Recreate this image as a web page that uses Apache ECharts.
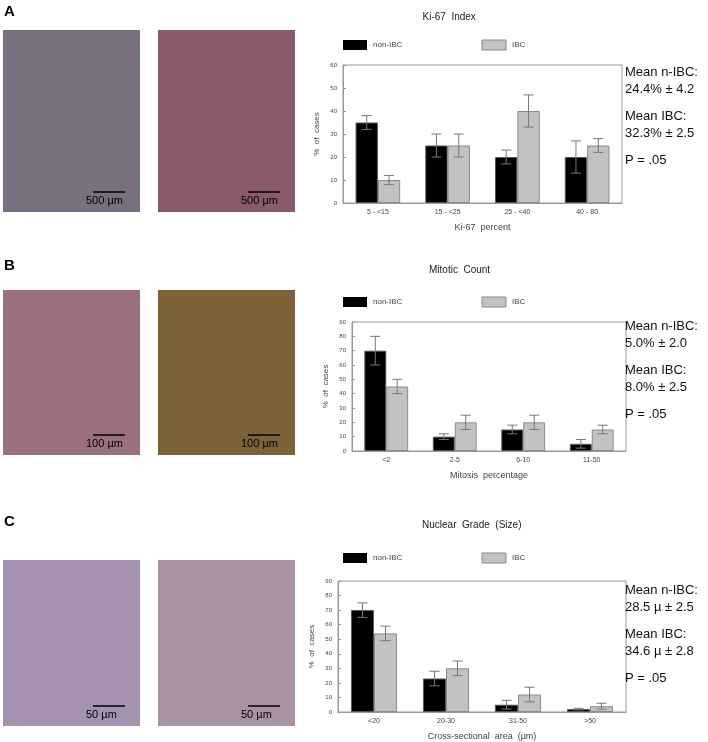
<!DOCTYPE html>
<html><head><meta charset="utf-8">
<script src="https://cdn.jsdelivr.net/npm/echarts@6/dist/echarts.min.js"></script>
<style>html,body{margin:0;padding:0;background:#fff}#c{width:708px;height:742px}</style>
</head><body><div id="c"></div>
<script>
const kiCats = ['5 - <15','15 - <25','25 - <40','40 - 80'];
const kiNon = [35,25,20,20], kiNonErr = [3,5,3,7];
const kiIbc = [10,25,40,25], kiIbcErr = [2,5,7,3];
const miCats = ['<2','2-5','6-10','11-50'];
const miNon = [70,10,15,5], miNonErr = [10,2,3,3];
const miIbc = [45,20,20,15], miIbcErr = [5,5,5,3];
const nuCats = ['<20','20-30','31-50','>50'];
const nuNon = [70,23,5,2], nuNonErr = [5,5,3,0.5];
const nuIbc = [54,30,12,4], nuIbcErr = [5,5,5,2];

const panels = [
 {cats:kiCats, non:kiNon, nonE:kiNonErr, ibc:kiIbc, ibcE:kiIbcErr, max:60, grid:{left:343,top:65,width:279,height:138},
  title:'Ki-67  Index', titleY:12, legY:40, xname:'Ki-67  percent', side:['Mean n-IBC:','24.4% ± 4.2','Mean IBC:','32.3% ± 2.5','P = .05'], sideY:66, letter:'A', letterY:4,
  img:{y:30,h:182,c1:'#77707f',c2:'#8a5a6a',bar:'500 µm'}},
 {cats:miCats, non:miNon, nonE:miNonErr, ibc:miIbc, ibcE:miIbcErr, max:90, grid:{left:352,top:322,width:274,height:129},
  title:'Mitotic  Count', titleY:265, legY:297, xname:'Mitosis  percentage', side:['Mean n-IBC:','5.0% ± 2.0','Mean IBC:','8.0% ± 2.5','P = .05'], sideY:320, letter:'B', letterY:258,
  img:{y:290,h:165,c1:'#9a7080',c2:'#7d6238',bar:'100 µm'}},
 {cats:nuCats, non:nuNon, nonE:nuNonErr, ibc:nuIbc, ibcE:nuIbcErr, max:90, grid:{left:338,top:581,width:288,height:131},
  title:'Nuclear  Grade  (Size)', titleY:520, legY:553, xname:'Cross-sectional  area  (µm)', side:['Mean n-IBC:','28.5 µ ± 2.5','Mean IBC:','34.6 µ ± 2.8','P = .05'], sideY:584, letter:'C', letterY:514,
  img:{y:560,h:166,c1:'#a592b0',c2:'#aa92a6',bar:'50 µm'}}
];

const grids=[],xAxes=[],yAxes=[],series=[],graphics=[];
function errSeries(i,vals,errs,sign,col){
  return {type:'custom',xAxisIndex:i,yAxisIndex:i,z:5,
    data:vals.map((v,k)=>[k,v,errs[k]]),
    renderItem:(params,api)=>{
      const k=api.value(0),v=api.value(1),e=api.value(2);
      const w=api.size([1,0])[0];
      const cx=api.coord([k,v])[0]+sign*0.16*w;
      const yt=api.coord([k,v+e])[1], yb=api.coord([k,v-e])[1];
      const st={stroke:col,lineWidth:1};
      return {type:'group',children:[
        {type:'line',shape:{x1:cx,y1:yt,x2:cx,y2:yb},style:st},
        {type:'line',shape:{x1:cx-5,y1:yt,x2:cx+5,y2:yt},style:st},
        {type:'line',shape:{x1:cx-5,y1:yb,x2:cx+5,y2:yb},style:st}]};
    }};
}
panels.forEach((p,i)=>{
  grids.push(Object.assign({show:true,borderColor:'#999',borderWidth:1,backgroundColor:'#fff'},p.grid));
  xAxes.push({type:'category',gridIndex:i,data:p.cats,axisTick:{show:false},axisLine:{lineStyle:{color:'#999'}},
    axisLabel:{fontSize:7,color:'#444',margin:6},name:p.xname,nameLocation:'middle',nameGap:20,nameTextStyle:{fontSize:9,color:'#444'}});
  yAxes.push({type:'value',gridIndex:i,min:0,max:p.max,interval:10,splitLine:{show:false},
    axisLine:{show:true,lineStyle:{color:'#999'}},axisTick:{show:true,length:3,inside:true},axisLabel:{fontSize:6,color:'#444',margin:6},
    name:'%  of  cases',nameLocation:'middle',nameGap:22,nameTextStyle:{fontSize:8,color:'#444'}});
  series.push({type:'bar',name:'non-IBC',xAxisIndex:i,yAxisIndex:i,data:p.non,barGap:'0%',barCategoryGap:'36%',itemStyle:{color:'#000',borderColor:'#555',borderWidth:1}});
  series.push({type:'bar',name:'IBC',xAxisIndex:i,yAxisIndex:i,data:p.ibc,barGap:'0%',barCategoryGap:'36%',itemStyle:{color:'#c2c2c2',borderColor:'#8a8a8a',borderWidth:1}});
  series.push(errSeries(i,p.non,p.nonE,-1,'#777'));
  series.push(errSeries(i,p.ibc,p.ibcE,1,'#777'));
  const cx=p.grid.left+p.grid.width/2;
  graphics.push({type:'text',left:cx-60,top:p.titleY,style:{text:p.title,font:'10px sans-serif',fill:'#222',width:120,align:'center'}});
  graphics.push({type:'text',x:cx,y:p.titleY,style:{text:'',fill:'#222'}});
  graphics.push({type:'rect',shape:{x:343,y:p.legY,width:24,height:10},style:{fill:'#000'}});
  graphics.push({type:'text',x:373,y:p.legY+1,style:{text:'non-IBC',font:'8px sans-serif',fill:'#444'}});
  graphics.push({type:'rect',shape:{x:482,y:p.legY,width:24,height:10},style:{fill:'#c2c2c2',stroke:'#8a8a8a',lineWidth:1}});
  graphics.push({type:'text',x:512,y:p.legY+1,style:{text:'IBC',font:'8px sans-serif',fill:'#444'}});
  const gap=[0,17,17,17,17];
  let y=p.sideY;
  p.side.forEach((t,j)=>{ if(j==2||j==4) y+=10; graphics.push({type:'text',x:625,y:y,style:{text:t,font:'13px Arial, Liberation Sans',fill:'#111'}}); y+=17;});
  graphics.push({type:'text',x:4,y:p.letterY,style:{text:p.letter,font:'bold 15px Arial, Liberation Sans',fill:'#000'}});
  [[3,p.img.c1],[158,p.img.c2]].forEach(([x,c])=>{
    graphics.push({type:'rect',shape:{x:x,y:p.img.y,width:137,height:p.img.h},style:{fill:c}});
    graphics.push({type:'line',shape:{x1:x+90,y1:p.img.y+p.img.h-20,x2:x+122,y2:p.img.y+p.img.h-20},style:{stroke:'#000',lineWidth:1.5}});
    graphics.push({type:'text',x:x+83,y:p.img.y+p.img.h-17,style:{text:p.img.bar,font:'11px Arial',fill:'#000'}});
  });
});
const chart=echarts.init(document.getElementById('c'));
chart.setOption({animation:false,grid:grids,xAxis:xAxes,yAxis:yAxes,series:series,graphic:graphics});
</script></body></html>
